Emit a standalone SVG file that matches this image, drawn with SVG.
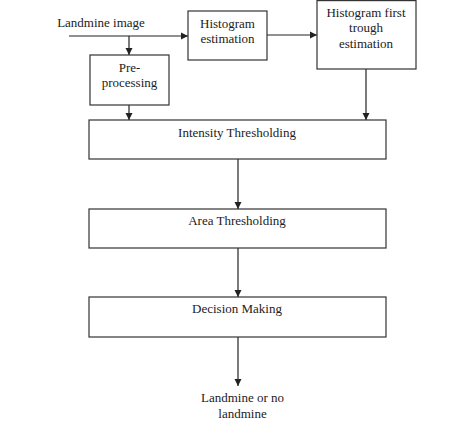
<svg xmlns="http://www.w3.org/2000/svg" width="474" height="431" viewBox="0 0 474 431">
<style>
.box{fill:#fff;stroke:#333;stroke-width:1.2}
.t{font-family:"Liberation Serif","Times New Roman",serif;font-size:13px;fill:#222;text-anchor:middle}
.c{stroke:#222;stroke-width:1.2;fill:none;marker-end:url(#ah)}
</style>
<defs>
<marker id="ah" markerWidth="8" markerHeight="8" refX="7" refY="4" orient="auto" markerUnits="userSpaceOnUse">
<path d="M0,0.5 L7,4 L0,7.5 Z" fill="#222"/>
</marker>
</defs>
<rect width="474" height="431" fill="#fff"/>
<g id="connectors">
<path class="c" d="M69,36 H188"/>
<path class="c" d="M129,36 V55"/>
<path class="c" d="M267,35 H317"/>
<path class="c" d="M129,105 V120"/>
<path class="c" d="M366,69 V120"/>
<path class="c" d="M238,159 V209"/>
<path class="c" d="M238,248 V297"/>
<path class="c" d="M238,337 V386"/>
</g>
<g id="input"><text class="t" x="101" y="27">Landmine image</text></g>
<g id="histogram"><rect class="box" x="188" y="11" width="79" height="49"/>
<text class="t" x="227.5" y="28">Histogram</text><text class="t" x="227.5" y="43">estimation</text></g>
<g id="trough"><rect class="box" x="317" y="0.6" width="99" height="68.4"/>
<text class="t" x="366" y="17">Histogram first</text><text class="t" x="366" y="32">trough</text><text class="t" x="366" y="48">estimation</text></g>
<g id="preprocessing"><rect class="box" x="90" y="55" width="79" height="50"/>
<text class="t" x="129.5" y="72">Pre-</text><text class="t" x="129.5" y="87">processing</text></g>
<g id="intensity"><rect class="box" x="89" y="120" width="297" height="39"/>
<text class="t" x="237" y="137">Intensity Thresholding</text></g>
<g id="area"><rect class="box" x="89" y="209" width="297" height="39"/>
<text class="t" x="237" y="225">Area Thresholding</text></g>
<g id="decision"><rect class="box" x="89" y="297" width="297" height="40"/>
<text class="t" x="237" y="313">Decision Making</text></g>
<g id="output"><text class="t" x="242.5" y="402">Landmine or no</text><text class="t" x="242.5" y="418">landmine</text></g>
</svg>
